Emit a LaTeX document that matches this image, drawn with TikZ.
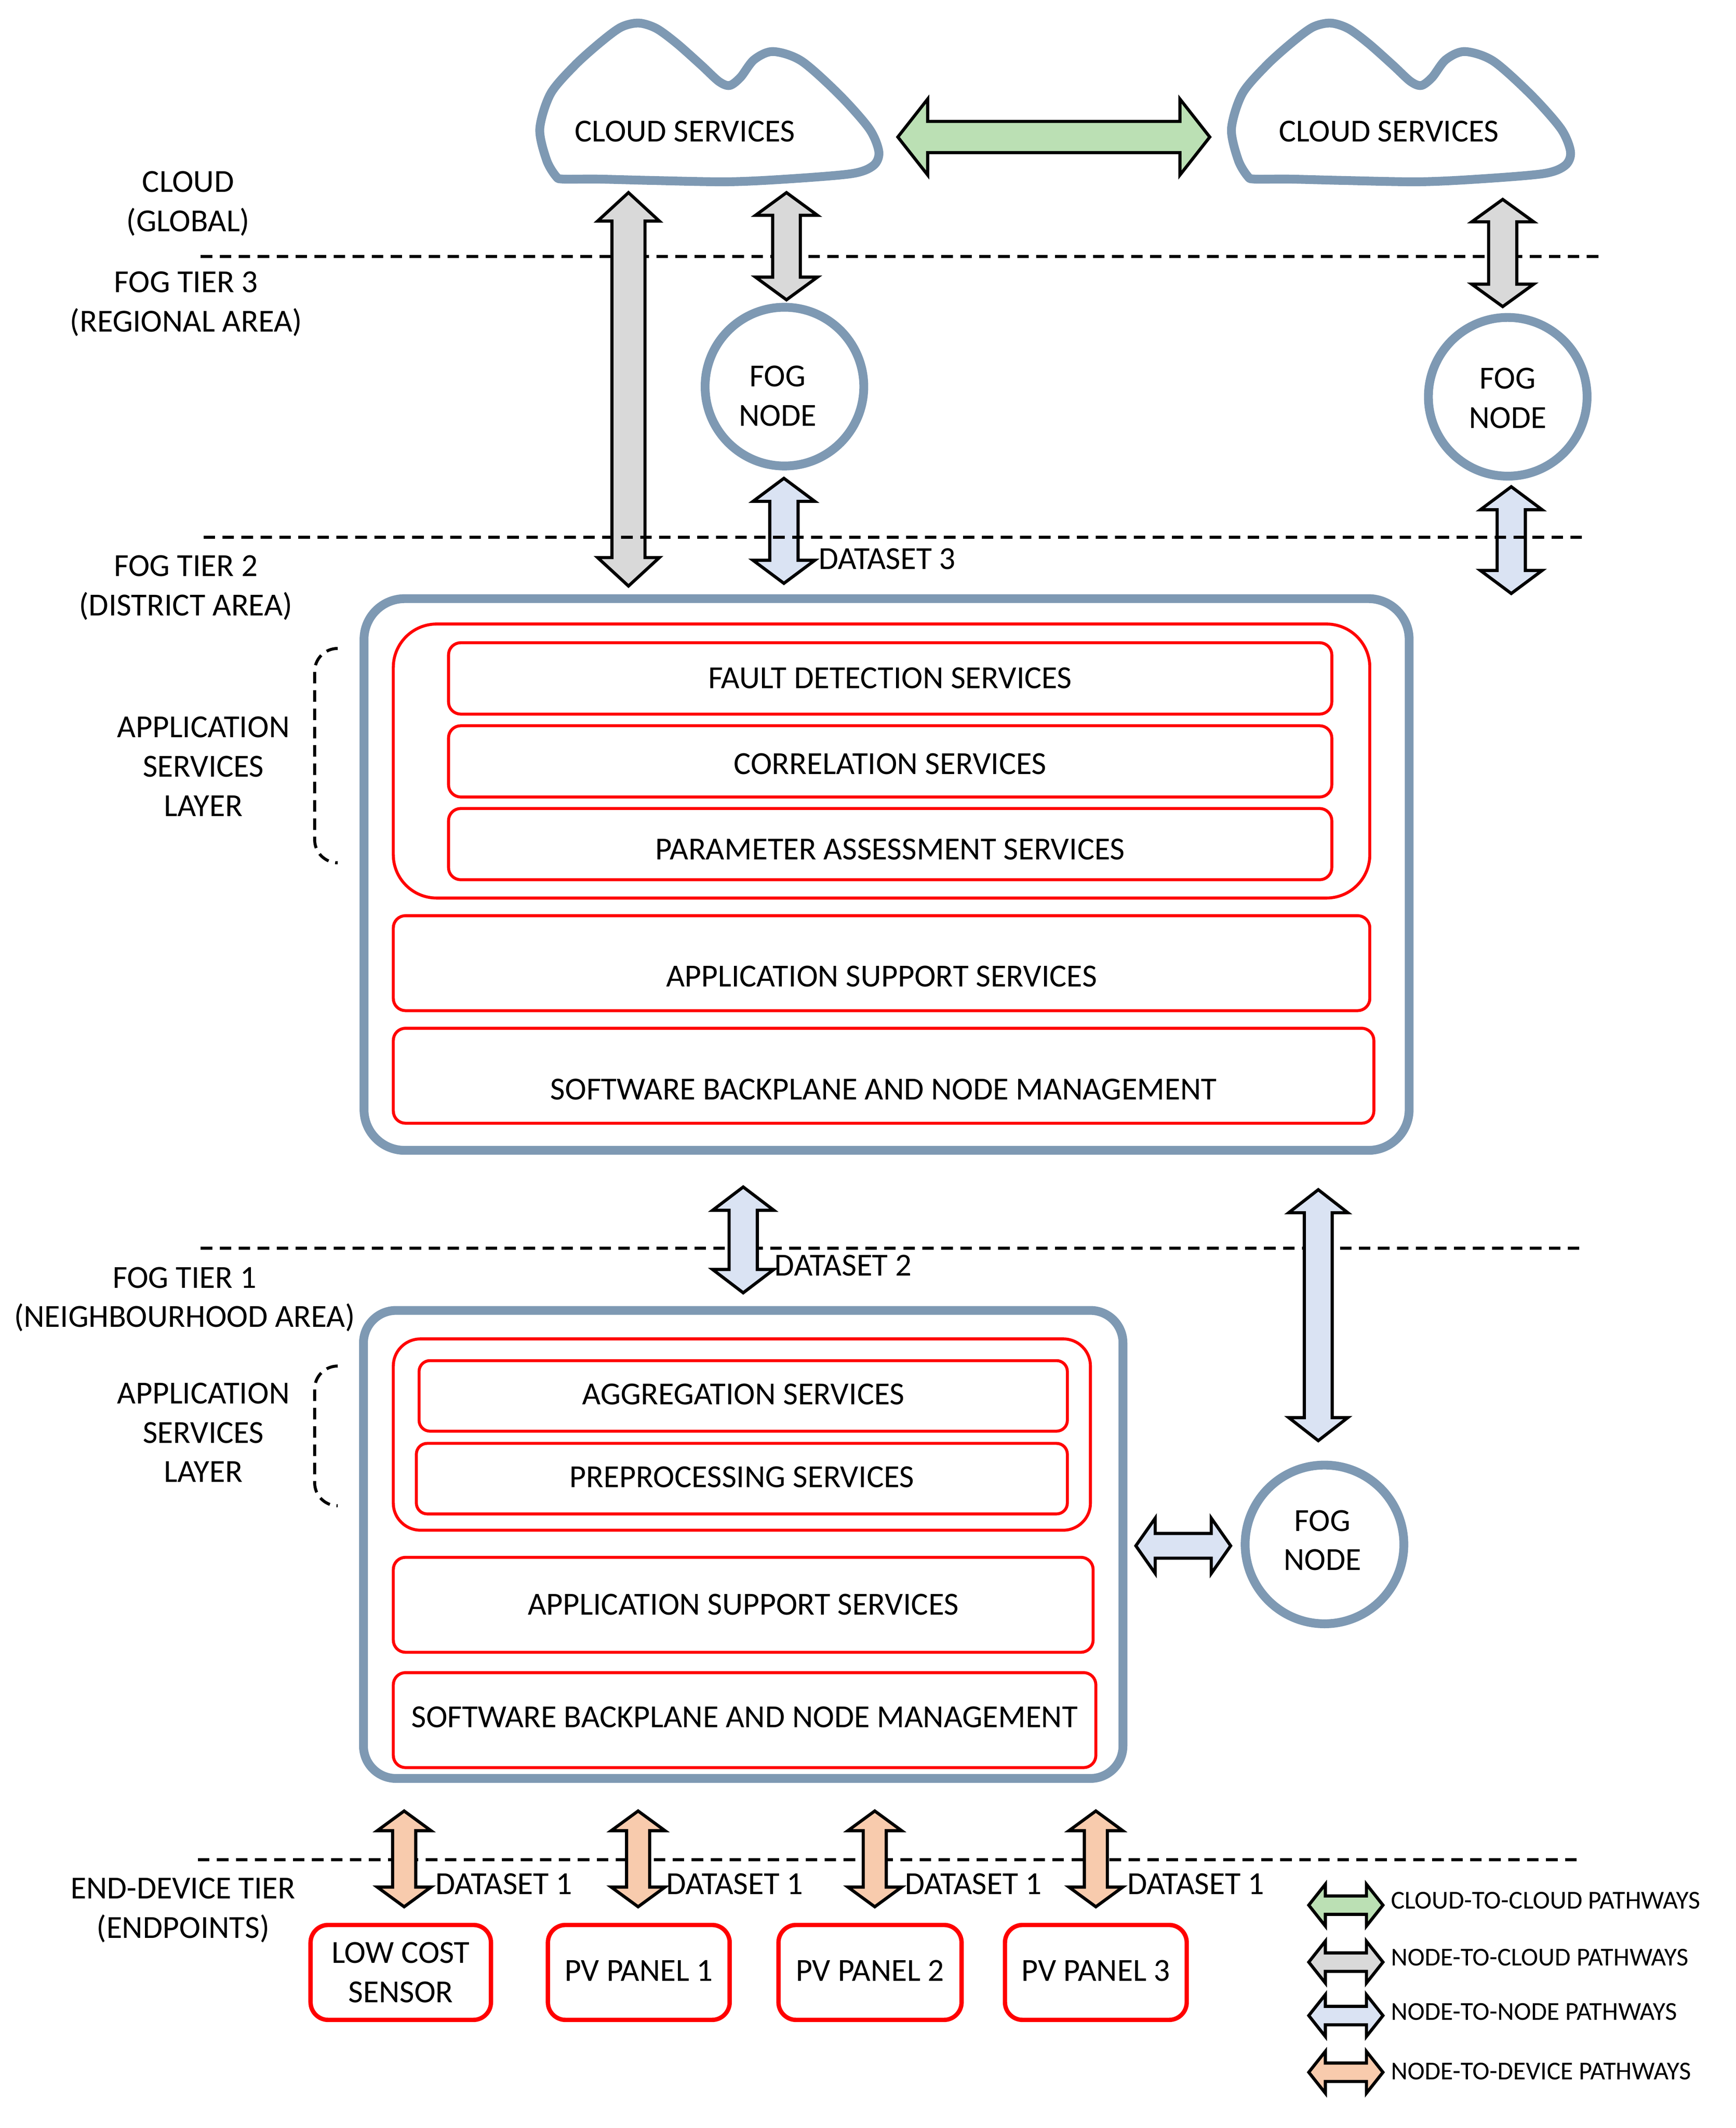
\documentclass[tikz,border=0pt]{standalone}
\usepackage{fontspec}
\setmainfont{Carlito}
\usetikzlibrary{calc}
\definecolor{bluegray}{HTML}{7E99B3}
\definecolor{agreen}{HTML}{BBE0B4}
\definecolor{agray}{HTML}{D9D9D9}
\definecolor{ablue}{HTML}{DAE3F3}
\definecolor{aorange}{HTML}{F8CBAD}
% vertical block double arrow: fill, top coord, bottom coord, shaft half, head half, head length
\newcommand{\vbarrow}[6]{%
  \draw[blockarrow,fill=#1] let \p1=(#2), \p2=(#3) in
   (\x1,\y1) -- (\x1+#5pt,\y1-#6pt) -- (\x1+#4pt,\y1-#6pt) -- (\x1+#4pt,\y2+#6pt)
   -- (\x1+#5pt,\y2+#6pt) -- (\x1,\y2) -- (\x1-#5pt,\y2+#6pt) -- (\x1-#4pt,\y2+#6pt)
   -- (\x1-#4pt,\y1-#6pt) -- (\x1-#5pt,\y1-#6pt) -- cycle;}
% horizontal block double arrow: fill, left coord, right coord, shaft half, head half, head length
\newcommand{\hbarrow}[6]{%
  \draw[blockarrow,fill=#1] let \p1=(#2), \p2=(#3) in
   (\x1,\y1) -- (\x1+#6pt,\y1+#5pt) -- (\x1+#6pt,\y1+#4pt) -- (\x2-#6pt,\y1+#4pt)
   -- (\x2-#6pt,\y1+#5pt) -- (\x2,\y1) -- (\x2-#6pt,\y1-#5pt) -- (\x2-#6pt,\y1-#4pt)
   -- (\x1+#6pt,\y1-#4pt) -- (\x1+#6pt,\y1-#5pt) -- cycle;}
\begin{document}
\begin{tikzpicture}[x=1pt,y=-1pt,
  txt/.style={font=\fontsize{23.7}{29}\selectfont, inner sep=0pt, text height=15pt, text depth=0pt},
  mtxt/.style={font=\fontsize{23.7}{29}\selectfont, inner sep=0pt, align=center},
  legtxt/.style={font=\fontsize{19}{23}\selectfont, inner sep=0pt, text height=12pt, text depth=0pt, anchor=west},
  bluebox/.style={draw=bluegray, line width=6.5pt, rectangle, inner sep=0pt},
  redgroup/.style={draw=red, line width=2.2pt, rectangle, inner sep=0pt},
  redbox/.style={draw=red, line width=2.2pt, rectangle, rounded corners=9pt, inner sep=0pt,
     font=\fontsize{23.7}{29}\selectfont, text depth=0pt},
  devbox/.style={draw=red, line width=3.2pt, rectangle, rounded corners=13pt, inner sep=0pt,
     font=\fontsize{23.7}{29}\selectfont, align=center,
     minimum width=134pt, minimum height=70pt},
  fognode/.style={circle, draw=bluegray, line width=6.5pt, minimum size=117pt, inner sep=0pt},
  cloudline/.style={draw=bluegray, line width=6.5pt, line join=round},
  tierline/.style={draw=black, line width=2.2pt, dash pattern=on 8.5pt off 5.5pt},
  bracketline/.style={draw=black, line width=2.2pt, dash pattern=on 8.5pt off 5pt, rounded corners=17pt},
  blockarrow/.style={draw=black, line width=2.3pt, line join=miter, miter limit=10}
]
\useasboundingbox (0,0) rectangle (1280,1568.7);

% ---------- tier lines (under the arrows) ----------
\coordinate (l1a) at (148,189);  \coordinate (l1b) at (1180,189);
\coordinate (l2a) at (150,396);  \coordinate (l2b) at (1170,396);
\coordinate (l3a) at (148,920);  \coordinate (l3b) at (1168,920);
\coordinate (l4a) at (146,1371); \coordinate (l4b) at (1165,1371);
\draw[tierline] (l1a) -- (l1b);
\draw[tierline] (l3a) -- (l3b);
\draw[tierline] (l4a) -- (l4b);

% ---------- clouds ----------
\draw[cloudline] plot[smooth cycle, tension=0.5] coordinates {
 (410,130) (403,118) (398,95) (406,69) (424,48) (443,31) (458,20) (471,17) (484,21)
 (499,32) (517,48) (530,60) (538,63) (546,57) (556,44) (570,38) (591,45) (619,70)
 (641,95) (648,112) (644,122) (628,128) (580,132) (536,134) (480,133) (440,132) (415,132)};
\begin{scope}[xshift=510pt]
\draw[cloudline] plot[smooth cycle, tension=0.5] coordinates {
 (410,130) (403,118) (398,95) (406,69) (424,48) (443,31) (458,20) (471,17) (484,21)
 (499,32) (517,48) (530,60) (538,63) (546,57) (556,44) (570,38) (591,45) (619,70)
 (641,95) (648,112) (644,122) (628,128) (580,132) (536,134) (480,133) (440,132) (415,132)};
\end{scope}
\node[txt] (cloud1) at (505,97) {CLOUD SERVICES};
\node[txt] (cloud2) at (1024,97) {CLOUD SERVICES};

% ---------- fog nodes ----------
\node[fognode] (fog1) at (578.4,285) {};
\node[mtxt] (fog1t) at ($(fog1.center)+(-5,7)$) {FOG\\NODE};
\node[fognode] (fog2) at (1111.7,292.5) {};
\node[mtxt] (fog2t) at ($(fog2.center)+(0,1)$) {FOG\\NODE};
\node[fognode] (fog3) at (976.6,1138.5) {};
\node[mtxt] (fog3t) at ($(fog3.center)+(-1.5,-3)$) {FOG\\NODE};

% ---------- district fog node (tier 2) ----------
\node[bluebox, rounded corners=30pt, minimum width=770.6pt, minimum height=406.7pt] (district) at (653.7,644.65) {};
\node[redgroup, rounded corners=32pt, minimum width=720pt, minimum height=202pt] (appgroup1) at (650,561) {};
\node[redbox, minimum width=651.3pt, minimum height=52.6pt, text height=15pt] (fault) at (656.35,500.1) {FAULT DETECTION SERVICES};
\node[redbox, minimum width=651.3pt, minimum height=52.5pt, text height=19pt] (corr) at (656.35,561.25) {CORRELATION SERVICES};
\node[redbox, minimum width=651.3pt, minimum height=52.5pt, text height=23pt] (param) at (656.35,622.25) {PARAMETER ASSESSMENT SERVICES};
\node[redbox, minimum width=720pt, minimum height=70pt, text height=35pt] (support1) at (650,710) {APPLICATION SUPPORT SERVICES};
\node[redbox, minimum width=723pt, minimum height=70pt, text height=35pt] (backplane1) at (651.5,793) {SOFTWARE BACKPLANE AND NODE MANAGEMENT};

% ---------- neighbourhood fog node (tier 1) ----------
\node[bluebox, rounded corners=24pt, minimum width=560pt, minimum height=345pt] (neigh) at (548,1138.5) {};
\node[redgroup, rounded corners=20pt, minimum width=514pt, minimum height=141pt] (appgroup2) at (547,1057.5) {};
\node[redbox, rounded corners=8pt, minimum width=478pt, minimum height=52pt, text height=13pt] (aggr) at (548,1029) {AGGREGATION SERVICES};
\node[redbox, rounded corners=8pt, minimum width=480pt, minimum height=52pt, text height=13pt] (prep) at (547,1090) {PREPROCESSING SERVICES};
\node[redbox, minimum width=516pt, minimum height=70pt, text height=15pt] (support2) at (548,1183) {APPLICATION SUPPORT SERVICES};
\node[redbox, minimum width=518pt, minimum height=70pt, text height=11pt] (backplane2) at (549,1268) {SOFTWARE BACKPLANE AND NODE MANAGEMENT};

% ---------- end devices ----------
\node[devbox, minimum width=133pt] (sensor) at (295.5,1454) {LOW COST\\SENSOR};
\node[devbox, text height=12.4pt, text depth=0pt] (pv1) at (471,1454) {PV PANEL 1};
\node[devbox, minimum width=135pt, text height=12.4pt, text depth=0pt] (pv2) at (641.5,1454) {PV PANEL 2};
\node[devbox, text height=12.4pt, text depth=0pt] (pv3) at (808,1454) {PV PANEL 3};

% ---------- block arrows ----------
\coordinate (c2cL) at (662,101);   \coordinate (c2cR) at (892,101);
\hbarrow{agreen}{c2cL}{c2cR}{11.5}{28}{22}
\coordinate (n2cT) at (463.4,142); \coordinate (n2cB) at (463.4,432);
\vbarrow{agray}{n2cT}{n2cB}{12.2}{22.8}{21}
\coordinate (f1T) at (579.9,142);  \coordinate (f1B) at (579.9,221);
\vbarrow{agray}{f1T}{f1B}{10.2}{22.8}{16.7}
\coordinate (f2T) at (1108,147);   \coordinate (f2B) at (1108,226);
\vbarrow{agray}{f2T}{f2B}{10.4}{22.8}{16.5}
\coordinate (d3T) at (578,352.6);  \coordinate (d3B) at (578,430);
\vbarrow{ablue}{d3T}{d3B}{10.4}{22.8}{17}
\coordinate (f2dT) at (1114.3,358.8); \coordinate (f2dB) at (1114.3,437.5);
\vbarrow{ablue}{f2dT}{f2dB}{10.4}{22.8}{17}
\coordinate (d2T) at (548,875);    \coordinate (d2B) at (548,953);
\vbarrow{ablue}{d2T}{d2B}{10.4}{22.6}{17.2}
\coordinate (lgT) at (972,877);    \coordinate (lgB) at (972,1062);
\vbarrow{ablue}{lgT}{lgB}{10.3}{21.8}{17}
\coordinate (hzL) at (837.5,1139.5); \coordinate (hzR) at (907.4,1139.5);
\hbarrow{ablue}{hzL}{hzR}{9.1}{20.4}{14.3}
\coordinate (o1T) at (298,1335);   \coordinate (o1B) at (298,1405.6);
\vbarrow{aorange}{o1T}{o1B}{8.5}{19.8}{14.5}
\coordinate (o2T) at (470.5,1335); \coordinate (o2B) at (470.5,1405.6);
\vbarrow{aorange}{o2T}{o2B}{8.5}{19.8}{14.5}
\coordinate (o3T) at (645,1335);   \coordinate (o3B) at (645,1405.6);
\vbarrow{aorange}{o3T}{o3B}{8.5}{19.8}{14.5}
\coordinate (o4T) at (808,1335);   \coordinate (o4B) at (808,1405.6);
\vbarrow{aorange}{o4T}{o4B}{8.5}{19.8}{14.5}

% tier line 2 lies over the arrows
\draw[tierline] (l2a) -- (l2b);

% ---------- dataset labels ----------
\node[txt, anchor=west] (ds3) at (603.5,412) {DATASET 3};
\node[txt, anchor=west] (ds2) at (571,933) {DATASET 2};
\node[txt, anchor=west] (ds1a) at (321,1389) {DATASET 1};
\node[txt, anchor=west] (ds1b) at (491,1389) {DATASET 1};
\node[txt, anchor=west] (ds1c) at (667,1389) {DATASET 1};
\node[txt, anchor=west] (ds1d) at (831,1389) {DATASET 1};

% ---------- tier labels ----------
\node[mtxt] (tcloud) at (138.7,150) {CLOUD\\(GLOBAL)};
\node[mtxt] (tfog3) at (137.2,223.9) {FOG TIER 3\\(REGIONAL AREA)};
\node[mtxt] (tfog2) at (137,433.2) {FOG TIER 2\\(DISTRICT AREA)};
\node[mtxt] (asl1) at (150,565) {APPLICATION\\SERVICES\\LAYER};
\node[mtxt] (tfog1) at (136,957.8) {FOG TIER 1\\(NEIGHBOURHOOD AREA)};
\node[mtxt] (asl2) at (150,1056) {APPLICATION\\SERVICES\\LAYER};
\node[mtxt] (tend) at (135,1408) {END-DEVICE TIER\\(ENDPOINTS)};

% ---------- layer brackets ----------
\coordinate (b1t) at (249,478); \coordinate (b1b) at (249,636);
\draw[bracketline] (b1t) -- (232,478) -- (232,636) -- (b1b);
\coordinate (b2t) at (249,1007); \coordinate (b2b) at (249,1110);
\draw[bracketline] (b2t) -- (232,1007) -- (232,1110) -- (b2b);

% ---------- legend ----------
\coordinate (k1L) at (965,1404.4); \coordinate (k1R) at (1019.7,1404.4);
\hbarrow{agreen}{k1L}{k1R}{6.8}{15.4}{12.2}
\coordinate (k2L) at (965,1446.4); \coordinate (k2R) at (1019.7,1446.4);
\hbarrow{agray}{k2L}{k2R}{6.8}{15.4}{12.2}
\coordinate (k3L) at (965,1485.8); \coordinate (k3R) at (1019.7,1485.8);
\hbarrow{ablue}{k3L}{k3R}{6.8}{15.4}{12.2}
\coordinate (k4L) at (965,1527.6); \coordinate (k4R) at (1019.7,1527.6);
\hbarrow{aorange}{k4L}{k4R}{6.8}{15.4}{12.2}
\node[legtxt] (key1) at (1025.4,1401) {CLOUD-TO-CLOUD PATHWAYS};
\node[legtxt] (key2) at (1025.4,1443) {NODE-TO-CLOUD PATHWAYS};
\node[legtxt] (key3) at (1025.4,1483) {NODE-TO-NODE PATHWAYS};
\node[legtxt] (key4) at (1025.4,1527) {NODE-TO-DEVICE PATHWAYS};
\end{tikzpicture}
\end{document}
